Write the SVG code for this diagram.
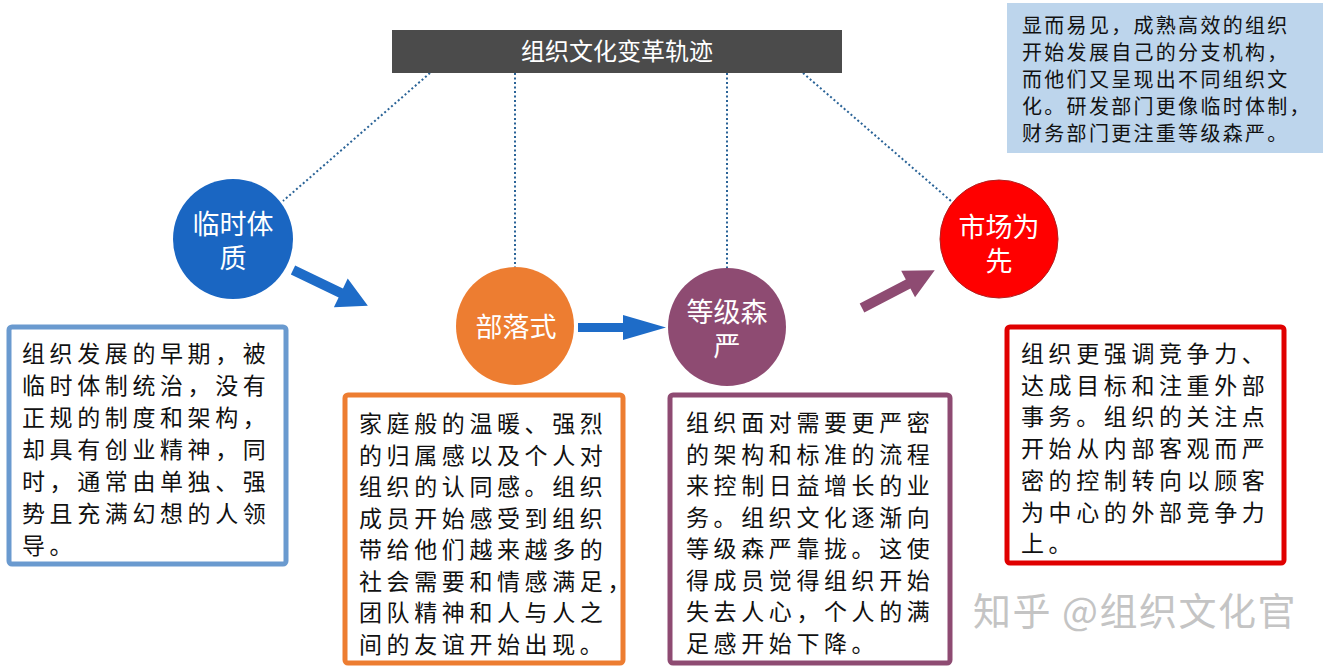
<svg xmlns="http://www.w3.org/2000/svg" width="1333" height="667" viewBox="0 0 1333 667">
<style>
.body{font-family:"Noto Sans CJK SC","Liberation Sans",sans-serif;font-size:23px;letter-spacing:4.6px;fill:#111}
.note{font-family:"Noto Sans CJK SC","Liberation Sans",sans-serif;font-size:20px;letter-spacing:2.3px;fill:#111}
.ctext{font-family:"Noto Sans CJK SC","Liberation Serif",serif;font-size:27px;fill:#fff;text-anchor:middle}
.title{font-family:"Noto Sans CJK SC","Liberation Serif",serif;font-size:24px;fill:#fff;text-anchor:middle}
.box{fill:#fff;stroke-width:5}
.dot{stroke:#2A6397;stroke-width:2;stroke-dasharray:2 2.5;fill:none}
</style>
<rect width="1333" height="667" fill="#fff"/>

<g id="connectors">
<line class="dot" x1="430" y1="73" x2="283" y2="201"/>
<line class="dot" x1="515" y1="73" x2="515" y2="268"/>
<line class="dot" x1="727" y1="73" x2="727" y2="268"/>
<line class="dot" x1="803" y1="73" x2="951" y2="201"/>
<polygon transform="translate(293,270) rotate(25.6)" points="0,-5 53,-5 53,-16 83,0 53,16 53,5 0,5" fill="#1E6CC8"/>
<polygon transform="translate(578,327.5)" points="0,-4.5 45,-4.5 45,-12.5 88,0 45,12.5 45,4.5 0,4.5" fill="#1E6CC8"/>
<polygon transform="translate(862,308) rotate(-27.5)" points="0,-5 52,-5 52,-15 82,0 52,15 52,5 0,5" fill="#8E4B72"/>
</g>

<g id="title">
<rect x="392" y="30" width="450" height="43" fill="#4B4B4B"/>
<text class="title" x="617" y="60">组织文化变革轨迹</text>
</g>

<g id="note">
<rect x="1007" y="3" width="316" height="150" fill="#BDD5EC"/>
<text class="note" x="1022" y="33">显而易见，成熟高效的组织</text>
<text class="note" x="1022" y="60">开始发展自己的分支机构，</text>
<text class="note" x="1022" y="87">而他们又呈现出不同组织文</text>
<text class="note" x="1022" y="114">化。研发部门更像临时体制，</text>
<text class="note" x="1022" y="141">财务部门更注重等级森严。</text>
</g>

<g id="node-linshi">
<circle cx="233" cy="239" r="60" fill="#1A66C2"/>
<text class="ctext" x="233" y="234">临时体<tspan x="233" dy="34">质</tspan></text>
</g>

<g id="node-buluo">
<circle cx="515" cy="326" r="59" fill="#ED7D31"/>
<text class="ctext" x="516" y="337">部落式</text>
</g>

<g id="node-dengji">
<circle cx="727" cy="327" r="59" fill="#8E4B72"/>
<text class="ctext" x="727" y="322">等级森<tspan x="727" dy="34">严</tspan></text>
</g>

<g id="node-shichang">
<circle cx="999" cy="239" r="59" fill="#FF0000" stroke="#B02020" stroke-width="1"/>
<text class="ctext" x="999" y="237">市场为<tspan x="999" dy="34">先</tspan></text>
</g>

<g id="box-linshi">
<rect class="box" x="9" y="327" width="277" height="237" rx="3" stroke="#6A9ACF"/>
<text class="body" x="22" y="362">组织发展的早期，被</text>
<text class="body" x="22" y="394">临时体制统治，没有</text>
<text class="body" x="22" y="426">正规的制度和架构，</text>
<text class="body" x="22" y="458">却具有创业精神，同</text>
<text class="body" x="22" y="490">时，通常由单独、强</text>
<text class="body" x="22" y="522">势且充满幻想的人领</text>
<text class="body" x="22" y="554">导。</text>
</g>

<g id="box-buluo">
<rect class="box" x="345" y="395" width="278" height="268" rx="3" stroke="#ED7D31"/>
<text class="body" x="359" y="432">家庭般的温暖、强烈</text>
<text class="body" x="359" y="463.5">的归属感以及个人对</text>
<text class="body" x="359" y="495">组织的认同感。组织</text>
<text class="body" x="359" y="526.5">成员开始感受到组织</text>
<text class="body" x="359" y="558">带给他们越来越多的</text>
<text class="body" x="359" y="589.5">社会需要和情感满足<tspan letter-spacing="0">，</tspan></text>
<text class="body" x="359" y="621">团队精神和人与人之</text>
<text class="body" x="359" y="652.5">间的友谊开始出现。</text>
</g>

<g id="box-dengji">
<rect class="box" x="670" y="395" width="280" height="268" rx="3" stroke="#8E4B72"/>
<text class="body" x="686" y="431">组织面对需要更严密</text>
<text class="body" x="686" y="462.5">的架构和标准的流程</text>
<text class="body" x="686" y="494">来控制日益增长的业</text>
<text class="body" x="686" y="525.5">务。组织文化逐渐向</text>
<text class="body" x="686" y="557">等级森严靠拢。这使</text>
<text class="body" x="686" y="588.5">得成员觉得组织开始</text>
<text class="body" x="686" y="620">失去人心，个人的满</text>
<text class="body" x="686" y="651.5">足感开始下降。</text>
</g>

<g id="box-shichang">
<rect class="box" x="1007" y="327" width="277" height="236" rx="3" stroke="#E00000"/>
<text class="body" x="1021" y="362">组织更强调竞争力、</text>
<text class="body" x="1021" y="393.7">达成目标和注重外部</text>
<text class="body" x="1021" y="425.4">事务。组织的关注点</text>
<text class="body" x="1021" y="457.1">开始从内部客观而严</text>
<text class="body" x="1021" y="488.8">密的控制转向以顾客</text>
<text class="body" x="1021" y="520.5">为中心的外部竞争力</text>
<text class="body" x="1021" y="552.2">上。</text>
</g>

<g id="watermark">
<text x="973" y="625" font-family="Noto Sans CJK SC, Liberation Sans, sans-serif" font-size="38" letter-spacing="1.5" fill="#C4C4C4">知乎 @组织文化官</text>
</g>
</svg>
